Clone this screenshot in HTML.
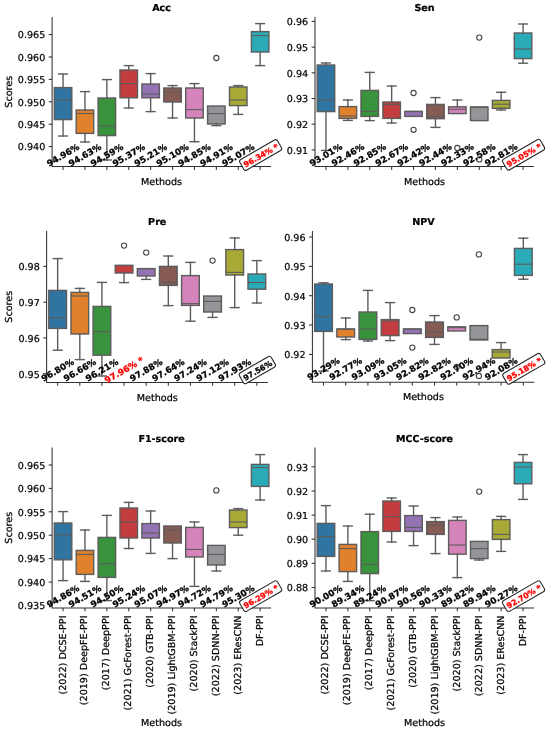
<!DOCTYPE html>
<html lang="en">
<head>
<meta charset="utf-8">
<title>Boxplots of method scores</title>
<style>
html,body{margin:0;padding:0;background:#ffffff;}
body{width:550px;height:731px;overflow:hidden;}
svg{display:block;font-family:"DejaVu Sans","Liberation Sans",sans-serif;fill:#000000;text-rendering:geometricPrecision;}
svg text{stroke:#000000;stroke-width:0.22px;stroke-linejoin:round;}
svg g.lab text{stroke-width:0.3px;}
svg text.r{stroke:#ff0000;}
</style>
</head>
<body>
<svg width="550" height="731" viewBox="0 0 550 731">
<rect width="550" height="731" fill="#ffffff"/>
<g class="panel">
<g stroke="#5c5c5c" stroke-width="1.4" stroke-linecap="square" fill="none">
<rect x="54.29" y="87.6" width="17.52" height="32" fill="#3074a1"/>
<line x1="54.29" y1="99.6" x2="71.81" y2="99.6" stroke-linecap="butt" stroke-width="1.1"/>
<line x1="63.05" y1="87.6" x2="63.05" y2="74"/>
<line x1="58.67" y1="74" x2="67.43" y2="74"/>
<line x1="63.05" y1="119.6" x2="63.05" y2="136"/>
<line x1="58.67" y1="136" x2="67.43" y2="136"/>
<rect x="76.19" y="110" width="17.52" height="23.4" fill="#e1812c"/>
<line x1="76.19" y1="113.5" x2="93.71" y2="113.5" stroke-linecap="butt" stroke-width="1.1"/>
<line x1="84.95" y1="110" x2="84.95" y2="91.6"/>
<line x1="80.57" y1="91.6" x2="89.33" y2="91.6"/>
<line x1="84.95" y1="133.4" x2="84.95" y2="142"/>
<line x1="80.57" y1="142" x2="89.33" y2="142"/>
<rect x="98.09" y="98" width="17.52" height="37.6" fill="#38933c"/>
<line x1="98.09" y1="126" x2="115.61" y2="126" stroke-linecap="butt" stroke-width="1.1"/>
<line x1="106.85" y1="98" x2="106.85" y2="79.6"/>
<line x1="102.47" y1="79.6" x2="111.23" y2="79.6"/>
<line x1="106.85" y1="135.6" x2="106.85" y2="160"/>
<line x1="102.47" y1="160" x2="111.23" y2="160"/>
<rect x="119.99" y="70" width="17.52" height="27.8" fill="#c33c3e"/>
<line x1="119.99" y1="83.6" x2="137.51" y2="83.6" stroke-linecap="butt" stroke-width="1.1"/>
<line x1="128.75" y1="70" x2="128.75" y2="65.6"/>
<line x1="124.37" y1="65.6" x2="133.13" y2="65.6"/>
<line x1="128.75" y1="97.8" x2="128.75" y2="108"/>
<line x1="124.37" y1="108" x2="133.13" y2="108"/>
<rect x="141.89" y="84" width="17.52" height="13.8" fill="#9473b5"/>
<line x1="141.89" y1="94" x2="159.41" y2="94" stroke-linecap="butt" stroke-width="1.1"/>
<line x1="150.65" y1="84" x2="150.65" y2="73.6"/>
<line x1="146.27" y1="73.6" x2="155.03" y2="73.6"/>
<line x1="150.65" y1="97.8" x2="150.65" y2="111.6"/>
<line x1="146.27" y1="111.6" x2="155.03" y2="111.6"/>
<rect x="163.79" y="88" width="17.52" height="14" fill="#855b53"/>
<line x1="163.79" y1="92" x2="181.31" y2="92" stroke-linecap="butt" stroke-width="1.1"/>
<line x1="172.55" y1="88" x2="172.55" y2="85.6"/>
<line x1="168.17" y1="85.6" x2="176.93" y2="85.6"/>
<line x1="172.55" y1="102" x2="172.55" y2="118"/>
<line x1="168.17" y1="118" x2="176.93" y2="118"/>
<rect x="185.69" y="88" width="17.52" height="30" fill="#d484ba"/>
<line x1="185.69" y1="109.6" x2="203.21" y2="109.6" stroke-linecap="butt" stroke-width="1.1"/>
<line x1="194.45" y1="88" x2="194.45" y2="83.6"/>
<line x1="190.07" y1="83.6" x2="198.83" y2="83.6"/>
<line x1="194.45" y1="118" x2="194.45" y2="141.7"/>
<line x1="190.07" y1="141.7" x2="198.83" y2="141.7"/>
<rect x="207.59" y="106" width="17.52" height="18" fill="#939598"/>
<line x1="207.59" y1="113.6" x2="225.11" y2="113.6" stroke-linecap="butt" stroke-width="1.1"/>
<line x1="216.35" y1="124" x2="216.35" y2="125.6"/>
<line x1="211.97" y1="125.6" x2="220.73" y2="125.6"/>
<circle cx="216.35" cy="58" r="2.6" stroke="#444444" stroke-width="1.1" fill="#ffffff" fill-opacity="0"/>
<rect x="229.49" y="87" width="17.52" height="18.6" fill="#a9aa35"/>
<line x1="229.49" y1="100" x2="247.01" y2="100" stroke-linecap="butt" stroke-width="1.1"/>
<line x1="238.25" y1="87" x2="238.25" y2="85.6"/>
<line x1="233.87" y1="85.6" x2="242.63" y2="85.6"/>
<line x1="238.25" y1="105.6" x2="238.25" y2="114.4"/>
<line x1="233.87" y1="114.4" x2="242.63" y2="114.4"/>
<rect x="251.39" y="31.6" width="17.52" height="20.4" fill="#2babb7"/>
<line x1="251.39" y1="35.6" x2="268.91" y2="35.6" stroke-linecap="butt" stroke-width="1.1"/>
<line x1="260.15" y1="31.6" x2="260.15" y2="23.6"/>
<line x1="255.77" y1="23.6" x2="264.53" y2="23.6"/>
<line x1="260.15" y1="52" x2="260.15" y2="65.6"/>
<line x1="255.77" y1="65.6" x2="264.53" y2="65.6"/>
</g>
<g stroke="#303030" stroke-width="1.05" fill="none">
<path d="M52.1 17V166.5H271.1"/>
<line x1="48.7" y1="34.6" x2="52.1" y2="34.6"/>
<line x1="48.7" y1="57" x2="52.1" y2="57"/>
<line x1="48.7" y1="79.4" x2="52.1" y2="79.4"/>
<line x1="48.7" y1="101.8" x2="52.1" y2="101.8"/>
<line x1="48.7" y1="124.2" x2="52.1" y2="124.2"/>
<line x1="48.7" y1="146.6" x2="52.1" y2="146.6"/>
<line x1="63.05" y1="166.5" x2="63.05" y2="169.9"/>
<line x1="84.95" y1="166.5" x2="84.95" y2="169.9"/>
<line x1="106.85" y1="166.5" x2="106.85" y2="169.9"/>
<line x1="128.75" y1="166.5" x2="128.75" y2="169.9"/>
<line x1="150.65" y1="166.5" x2="150.65" y2="169.9"/>
<line x1="172.55" y1="166.5" x2="172.55" y2="169.9"/>
<line x1="194.45" y1="166.5" x2="194.45" y2="169.9"/>
<line x1="216.35" y1="166.5" x2="216.35" y2="169.9"/>
<line x1="238.25" y1="166.5" x2="238.25" y2="169.9"/>
<line x1="260.15" y1="166.5" x2="260.15" y2="169.9"/>
</g>
<g font-size="9.6" text-anchor="end">
<text x="45.3" y="38.4">0.965</text>
<text x="45.3" y="60.8">0.960</text>
<text x="45.3" y="83.2">0.955</text>
<text x="45.3" y="105.6">0.950</text>
<text x="45.3" y="128">0.945</text>
<text x="45.3" y="150.4">0.940</text>
</g>
<text x="161.6" y="11.2" font-size="9.6" font-weight="bold" text-anchor="middle">Acc</text>
<text transform="translate(12.1 91.75) rotate(-90)" font-size="9.6" text-anchor="middle">Scores</text>
<text x="161.6" y="184.7" font-size="9.6" text-anchor="middle">Methods</text>
<g class="lab" font-weight="bold" text-anchor="middle">
<text transform="translate(62.95 155) rotate(-30)" y="3.11" font-size="8.64" fill="#000000">94.96%</text>
<text transform="translate(84.85 155) rotate(-30)" y="3.11" font-size="8.64" fill="#000000">94.63%</text>
<text transform="translate(106.75 155) rotate(-30)" y="3.11" font-size="8.64" fill="#000000">94.59%</text>
<text transform="translate(128.65 155) rotate(-30)" y="3.11" font-size="8.64" fill="#000000">95.37%</text>
<text transform="translate(150.55 155) rotate(-30)" y="3.11" font-size="8.64" fill="#000000">95.21%</text>
<text transform="translate(172.45 155) rotate(-30)" y="3.11" font-size="8.64" fill="#000000">95.10%</text>
<text transform="translate(194.35 155) rotate(-30)" y="3.11" font-size="8.64" fill="#000000">94.85%</text>
<text transform="translate(216.25 155) rotate(-30)" y="3.11" font-size="8.64" fill="#000000">94.91%</text>
<text transform="translate(238.15 155) rotate(-30)" y="3.11" font-size="8.64" fill="#000000">95.07%</text>
<g transform="translate(260.65 155) rotate(-30)">
<rect x="-21.71" y="-6.1" width="43.42" height="12.2" rx="2.3" fill="#ffffff" stroke="#222222" stroke-width="1.05"/>
<text y="3.36" font-size="7.68" fill="#ff0000" class="r">96.34% *</text>
</g>
</g>
</g>
<g class="panel">
<g stroke="#5c5c5c" stroke-width="1.4" stroke-linecap="square" fill="none">
<rect x="317.19" y="65" width="17.52" height="46.6" fill="#3074a1"/>
<line x1="317.19" y1="100" x2="334.71" y2="100" stroke-linecap="butt" stroke-width="1.1"/>
<line x1="325.95" y1="65" x2="325.95" y2="63"/>
<line x1="321.57" y1="63" x2="330.33" y2="63"/>
<line x1="325.95" y1="111.6" x2="325.95" y2="150.4"/>
<line x1="321.57" y1="150.4" x2="330.33" y2="150.4"/>
<rect x="339.09" y="106.6" width="17.52" height="11.8" fill="#e1812c"/>
<line x1="339.09" y1="116" x2="356.61" y2="116" stroke-linecap="butt" stroke-width="1.1"/>
<line x1="347.85" y1="106.6" x2="347.85" y2="100"/>
<line x1="343.47" y1="100" x2="352.23" y2="100"/>
<line x1="347.85" y1="118.4" x2="347.85" y2="120.4"/>
<line x1="343.47" y1="120.4" x2="352.23" y2="120.4"/>
<rect x="360.99" y="90.4" width="17.52" height="26" fill="#38933c"/>
<line x1="360.99" y1="111.4" x2="378.51" y2="111.4" stroke-linecap="butt" stroke-width="1.1"/>
<line x1="369.75" y1="90.4" x2="369.75" y2="72.4"/>
<line x1="365.37" y1="72.4" x2="374.13" y2="72.4"/>
<line x1="369.75" y1="116.4" x2="369.75" y2="120.6"/>
<line x1="365.37" y1="120.6" x2="374.13" y2="120.6"/>
<rect x="382.89" y="102" width="17.52" height="16.4" fill="#c33c3e"/>
<line x1="382.89" y1="104.4" x2="400.41" y2="104.4" stroke-linecap="butt" stroke-width="1.1"/>
<line x1="391.65" y1="102" x2="391.65" y2="86"/>
<line x1="387.27" y1="86" x2="396.03" y2="86"/>
<line x1="391.65" y1="118.4" x2="391.65" y2="123"/>
<line x1="387.27" y1="123" x2="396.03" y2="123"/>
<rect x="404.79" y="111.4" width="17.52" height="5" fill="#9473b5"/>
<line x1="404.79" y1="111.4" x2="422.31" y2="111.4" stroke-linecap="butt" stroke-width="1.1"/>
<circle cx="413.55" cy="93" r="2.6" stroke="#444444" stroke-width="1.1" fill="#ffffff" fill-opacity="0"/>
<circle cx="413.55" cy="129.8" r="2.6" stroke="#444444" stroke-width="1.1" fill="#ffffff" fill-opacity="0"/>
<rect x="426.69" y="104.4" width="17.52" height="14.3" fill="#855b53"/>
<line x1="426.69" y1="116.6" x2="444.21" y2="116.6" stroke-linecap="butt" stroke-width="1.1"/>
<line x1="435.45" y1="104.4" x2="435.45" y2="97.6"/>
<line x1="431.07" y1="97.6" x2="439.83" y2="97.6"/>
<line x1="435.45" y1="118.7" x2="435.45" y2="127.4"/>
<line x1="431.07" y1="127.4" x2="439.83" y2="127.4"/>
<rect x="448.59" y="106.8" width="17.52" height="6.8" fill="#d484ba"/>
<line x1="448.59" y1="109.3" x2="466.11" y2="109.3" stroke-linecap="butt" stroke-width="1.1"/>
<line x1="457.35" y1="106.8" x2="457.35" y2="100"/>
<line x1="452.97" y1="100" x2="461.73" y2="100"/>
<circle cx="457.35" cy="148" r="2.6" stroke="#444444" stroke-width="1.1" fill="#ffffff" fill-opacity="0"/>
<rect x="470.49" y="107" width="17.52" height="13.6" fill="#939598"/>
<line x1="470.49" y1="107" x2="488.01" y2="107" stroke-linecap="butt" stroke-width="1.1"/>
<circle cx="479.25" cy="37.6" r="2.6" stroke="#444444" stroke-width="1.1" fill="#ffffff" fill-opacity="0"/>
<circle cx="479.25" cy="159.4" r="2.6" stroke="#444444" stroke-width="1.1" fill="#ffffff" fill-opacity="0"/>
<rect x="492.39" y="100.4" width="17.52" height="7.9" fill="#a9aa35"/>
<line x1="492.39" y1="104.2" x2="509.91" y2="104.2" stroke-linecap="butt" stroke-width="1.1"/>
<line x1="501.15" y1="100.4" x2="501.15" y2="92.3"/>
<line x1="496.77" y1="92.3" x2="505.53" y2="92.3"/>
<line x1="501.15" y1="108.3" x2="501.15" y2="110"/>
<line x1="496.77" y1="110" x2="505.53" y2="110"/>
<rect x="514.29" y="33" width="17.52" height="25.6" fill="#2babb7"/>
<line x1="514.29" y1="49" x2="531.81" y2="49" stroke-linecap="butt" stroke-width="1.1"/>
<line x1="523.05" y1="33" x2="523.05" y2="24"/>
<line x1="518.67" y1="24" x2="527.43" y2="24"/>
<line x1="523.05" y1="58.6" x2="523.05" y2="63.2"/>
<line x1="518.67" y1="63.2" x2="527.43" y2="63.2"/>
</g>
<g stroke="#303030" stroke-width="1.05" fill="none">
<path d="M315 17V166.5H534"/>
<line x1="311.6" y1="21.4" x2="315" y2="21.4"/>
<line x1="311.6" y1="47.1" x2="315" y2="47.1"/>
<line x1="311.6" y1="72.8" x2="315" y2="72.8"/>
<line x1="311.6" y1="98.5" x2="315" y2="98.5"/>
<line x1="311.6" y1="124.2" x2="315" y2="124.2"/>
<line x1="311.6" y1="149.9" x2="315" y2="149.9"/>
<line x1="325.95" y1="166.5" x2="325.95" y2="169.9"/>
<line x1="347.85" y1="166.5" x2="347.85" y2="169.9"/>
<line x1="369.75" y1="166.5" x2="369.75" y2="169.9"/>
<line x1="391.65" y1="166.5" x2="391.65" y2="169.9"/>
<line x1="413.55" y1="166.5" x2="413.55" y2="169.9"/>
<line x1="435.45" y1="166.5" x2="435.45" y2="169.9"/>
<line x1="457.35" y1="166.5" x2="457.35" y2="169.9"/>
<line x1="479.25" y1="166.5" x2="479.25" y2="169.9"/>
<line x1="501.15" y1="166.5" x2="501.15" y2="169.9"/>
<line x1="523.05" y1="166.5" x2="523.05" y2="169.9"/>
</g>
<g font-size="9.6" text-anchor="end">
<text x="308.2" y="25.2">0.96</text>
<text x="308.2" y="50.9">0.95</text>
<text x="308.2" y="76.6">0.94</text>
<text x="308.2" y="102.3">0.93</text>
<text x="308.2" y="128">0.92</text>
<text x="308.2" y="153.7">0.91</text>
</g>
<text x="424.5" y="11.2" font-size="9.6" font-weight="bold" text-anchor="middle">Sen</text>
<text x="424.5" y="184.7" font-size="9.6" text-anchor="middle">Methods</text>
<g class="lab" font-weight="bold" text-anchor="middle">
<text transform="translate(325.85 154.7) rotate(-30)" y="3.11" font-size="8.64" fill="#000000">93.01%</text>
<text transform="translate(347.75 154.7) rotate(-30)" y="3.11" font-size="8.64" fill="#000000">92.46%</text>
<text transform="translate(369.65 154.7) rotate(-30)" y="3.11" font-size="8.64" fill="#000000">92.85%</text>
<text transform="translate(391.55 154.7) rotate(-30)" y="3.11" font-size="8.64" fill="#000000">92.67%</text>
<text transform="translate(413.45 154.7) rotate(-30)" y="3.11" font-size="8.64" fill="#000000">92.42%</text>
<text transform="translate(435.35 154.7) rotate(-30)" y="3.11" font-size="8.64" fill="#000000">92.44%</text>
<text transform="translate(457.25 154.7) rotate(-30)" y="3.11" font-size="8.64" fill="#000000">92.33%</text>
<text transform="translate(479.15 154.7) rotate(-30)" y="3.11" font-size="8.64" fill="#000000">92.58%</text>
<text transform="translate(501.05 154.7) rotate(-30)" y="3.11" font-size="8.64" fill="#000000">92.81%</text>
<g transform="translate(523.55 154.7) rotate(-30)">
<rect x="-21.71" y="-6.1" width="43.42" height="12.2" rx="2.3" fill="#ffffff" stroke="#222222" stroke-width="1.05"/>
<text y="3.36" font-size="7.68" fill="#ff0000" class="r">95.05% *</text>
</g>
</g>
</g>
<g class="panel">
<g stroke="#5c5c5c" stroke-width="1.4" stroke-linecap="square" fill="none">
<rect x="48.81" y="290.4" width="17.7" height="38" fill="#3074a1"/>
<line x1="48.81" y1="318" x2="66.52" y2="318" stroke-linecap="butt" stroke-width="1.1"/>
<line x1="57.66" y1="290.4" x2="57.66" y2="258.6"/>
<line x1="53.24" y1="258.6" x2="62.09" y2="258.6"/>
<line x1="57.66" y1="328.4" x2="57.66" y2="350.2"/>
<line x1="53.24" y1="350.2" x2="62.09" y2="350.2"/>
<rect x="70.94" y="292.4" width="17.7" height="41.6" fill="#e1812c"/>
<line x1="70.94" y1="296" x2="88.65" y2="296" stroke-linecap="butt" stroke-width="1.1"/>
<line x1="79.8" y1="292.4" x2="79.8" y2="288.4"/>
<line x1="75.37" y1="288.4" x2="84.22" y2="288.4"/>
<line x1="79.8" y1="334" x2="79.8" y2="359.6"/>
<line x1="75.37" y1="359.6" x2="84.22" y2="359.6"/>
<rect x="93.07" y="306.4" width="17.7" height="48.8" fill="#38933c"/>
<line x1="93.07" y1="331.6" x2="110.78" y2="331.6" stroke-linecap="butt" stroke-width="1.1"/>
<line x1="101.92" y1="306.4" x2="101.92" y2="282.4"/>
<line x1="97.5" y1="282.4" x2="106.35" y2="282.4"/>
<line x1="101.92" y1="355.2" x2="101.92" y2="376"/>
<line x1="97.5" y1="376" x2="106.35" y2="376"/>
<rect x="115.2" y="265.4" width="17.7" height="7.6" fill="#c33c3e"/>
<line x1="115.2" y1="265.4" x2="132.91" y2="265.4" stroke-linecap="butt" stroke-width="1.1"/>
<line x1="124.06" y1="273" x2="124.06" y2="282.6"/>
<line x1="119.63" y1="282.6" x2="128.48" y2="282.6"/>
<circle cx="124.06" cy="245.6" r="2.6" stroke="#444444" stroke-width="1.1" fill="#ffffff" fill-opacity="0"/>
<rect x="137.33" y="268.6" width="17.7" height="7.4" fill="#9473b5"/>
<line x1="137.33" y1="268.6" x2="155.04" y2="268.6" stroke-linecap="butt" stroke-width="1.1"/>
<line x1="146.19" y1="276" x2="146.19" y2="279.4"/>
<line x1="141.76" y1="279.4" x2="150.61" y2="279.4"/>
<circle cx="146.19" cy="252.6" r="2.6" stroke="#444444" stroke-width="1.1" fill="#ffffff" fill-opacity="0"/>
<rect x="159.46" y="266.4" width="17.7" height="19" fill="#855b53"/>
<line x1="159.46" y1="282.4" x2="177.17" y2="282.4" stroke-linecap="butt" stroke-width="1.1"/>
<line x1="168.31" y1="266.4" x2="168.31" y2="256"/>
<line x1="163.89" y1="256" x2="172.74" y2="256"/>
<line x1="168.31" y1="285.4" x2="168.31" y2="305.6"/>
<line x1="163.89" y1="305.6" x2="172.74" y2="305.6"/>
<rect x="181.59" y="275.6" width="17.7" height="29.8" fill="#d484ba"/>
<line x1="181.59" y1="303.6" x2="199.3" y2="303.6" stroke-linecap="butt" stroke-width="1.1"/>
<line x1="190.44" y1="275.6" x2="190.44" y2="262.4"/>
<line x1="186.02" y1="262.4" x2="194.87" y2="262.4"/>
<line x1="190.44" y1="305.4" x2="190.44" y2="321.2"/>
<line x1="186.02" y1="321.2" x2="194.87" y2="321.2"/>
<rect x="203.72" y="296" width="17.7" height="16" fill="#939598"/>
<line x1="203.72" y1="301.4" x2="221.43" y2="301.4" stroke-linecap="butt" stroke-width="1.1"/>
<line x1="212.57" y1="312" x2="212.57" y2="317.4"/>
<line x1="208.15" y1="317.4" x2="217" y2="317.4"/>
<circle cx="212.57" cy="260.6" r="2.6" stroke="#444444" stroke-width="1.1" fill="#ffffff" fill-opacity="0"/>
<rect x="225.85" y="249.6" width="17.7" height="25.4" fill="#a9aa35"/>
<line x1="225.85" y1="272.4" x2="243.56" y2="272.4" stroke-linecap="butt" stroke-width="1.1"/>
<line x1="234.7" y1="249.6" x2="234.7" y2="238"/>
<line x1="230.28" y1="238" x2="239.13" y2="238"/>
<line x1="234.7" y1="275" x2="234.7" y2="307.6"/>
<line x1="230.28" y1="307.6" x2="239.13" y2="307.6"/>
<rect x="247.98" y="274" width="17.7" height="15.2" fill="#2babb7"/>
<line x1="247.98" y1="282.5" x2="265.69" y2="282.5" stroke-linecap="butt" stroke-width="1.1"/>
<line x1="256.83" y1="274" x2="256.83" y2="260.6"/>
<line x1="252.41" y1="260.6" x2="261.26" y2="260.6"/>
<line x1="256.83" y1="289.2" x2="256.83" y2="303"/>
<line x1="252.41" y1="303" x2="261.26" y2="303"/>
</g>
<g stroke="#303030" stroke-width="1.05" fill="none">
<path d="M46.6 231V382.4H267.9"/>
<line x1="43.2" y1="266.4" x2="46.6" y2="266.4"/>
<line x1="43.2" y1="302.2" x2="46.6" y2="302.2"/>
<line x1="43.2" y1="337.9" x2="46.6" y2="337.9"/>
<line x1="43.2" y1="373.7" x2="46.6" y2="373.7"/>
<line x1="57.66" y1="382.4" x2="57.66" y2="385.8"/>
<line x1="79.8" y1="382.4" x2="79.8" y2="385.8"/>
<line x1="101.92" y1="382.4" x2="101.92" y2="385.8"/>
<line x1="124.06" y1="382.4" x2="124.06" y2="385.8"/>
<line x1="146.19" y1="382.4" x2="146.19" y2="385.8"/>
<line x1="168.31" y1="382.4" x2="168.31" y2="385.8"/>
<line x1="190.44" y1="382.4" x2="190.44" y2="385.8"/>
<line x1="212.57" y1="382.4" x2="212.57" y2="385.8"/>
<line x1="234.7" y1="382.4" x2="234.7" y2="385.8"/>
<line x1="256.83" y1="382.4" x2="256.83" y2="385.8"/>
</g>
<g font-size="9.6" text-anchor="end">
<text x="39.8" y="270.2">0.98</text>
<text x="39.8" y="306">0.97</text>
<text x="39.8" y="341.7">0.96</text>
<text x="39.8" y="377.5">0.95</text>
</g>
<text x="157.25" y="225.2" font-size="9.6" font-weight="bold" text-anchor="middle">Pre</text>
<text transform="translate(12.1 306.7) rotate(-90)" font-size="9.6" text-anchor="middle">Scores</text>
<text x="157.25" y="400.6" font-size="9.6" text-anchor="middle">Methods</text>
<g class="lab" font-weight="bold" text-anchor="middle">
<text transform="translate(57.56 370) rotate(-30)" y="3.11" font-size="8.64" fill="#000000">96.80%</text>
<text transform="translate(79.7 370) rotate(-30)" y="3.11" font-size="8.64" fill="#000000">96.66%</text>
<text transform="translate(101.83 370) rotate(-30)" y="3.11" font-size="8.64" fill="#000000">96.21%</text>
<text transform="translate(123.96 370) rotate(-30)" y="3.11" font-size="8.64" fill="#ff0000" class="r">97.96% *</text>
<text transform="translate(146.09 370) rotate(-30)" y="3.11" font-size="8.64" fill="#000000">97.88%</text>
<text transform="translate(168.22 370) rotate(-30)" y="3.11" font-size="8.64" fill="#000000">97.64%</text>
<text transform="translate(190.34 370) rotate(-30)" y="3.11" font-size="8.64" fill="#000000">97.24%</text>
<text transform="translate(212.47 370) rotate(-30)" y="3.11" font-size="8.64" fill="#000000">97.12%</text>
<text transform="translate(234.6 370) rotate(-30)" y="3.11" font-size="8.64" fill="#000000">97.93%</text>
<g transform="translate(257.33 370) rotate(-30)">
<rect x="-18.35" y="-6.1" width="36.7" height="12.2" rx="2.3" fill="#ffffff" stroke="#222222" stroke-width="1.05"/>
<text y="3.36" font-size="7.68" fill="#000000">97.56%</text>
</g>
</g>
</g>
<g class="panel">
<g stroke="#5c5c5c" stroke-width="1.4" stroke-linecap="square" fill="none">
<rect x="314.62" y="284" width="17.76" height="47.4" fill="#3074a1"/>
<line x1="314.62" y1="316.6" x2="332.38" y2="316.6" stroke-linecap="butt" stroke-width="1.1"/>
<line x1="323.5" y1="284" x2="323.5" y2="282.8"/>
<line x1="319.06" y1="282.8" x2="327.94" y2="282.8"/>
<line x1="323.5" y1="331.4" x2="323.5" y2="371"/>
<line x1="319.06" y1="371" x2="327.94" y2="371"/>
<rect x="336.82" y="329" width="17.76" height="8" fill="#e1812c"/>
<line x1="336.82" y1="329" x2="354.58" y2="329" stroke-linecap="butt" stroke-width="1.1"/>
<line x1="345.7" y1="329" x2="345.7" y2="318"/>
<line x1="341.26" y1="318" x2="350.14" y2="318"/>
<line x1="345.7" y1="337" x2="345.7" y2="339.6"/>
<line x1="341.26" y1="339.6" x2="350.14" y2="339.6"/>
<rect x="359.02" y="312" width="17.76" height="27.4" fill="#38933c"/>
<line x1="359.02" y1="329" x2="376.78" y2="329" stroke-linecap="butt" stroke-width="1.1"/>
<line x1="367.9" y1="312" x2="367.9" y2="290.4"/>
<line x1="363.46" y1="290.4" x2="372.34" y2="290.4"/>
<line x1="367.9" y1="339.4" x2="367.9" y2="341"/>
<line x1="363.46" y1="341" x2="372.34" y2="341"/>
<rect x="381.22" y="319.6" width="17.76" height="16" fill="#c33c3e"/>
<line x1="381.22" y1="321" x2="398.98" y2="321" stroke-linecap="butt" stroke-width="1.1"/>
<line x1="390.1" y1="319.6" x2="390.1" y2="302.6"/>
<line x1="385.66" y1="302.6" x2="394.54" y2="302.6"/>
<line x1="390.1" y1="335.6" x2="390.1" y2="340.6"/>
<line x1="385.66" y1="340.6" x2="394.54" y2="340.6"/>
<rect x="403.42" y="329" width="17.76" height="4.6" fill="#9473b5"/>
<line x1="403.42" y1="329" x2="421.18" y2="329" stroke-linecap="butt" stroke-width="1.1"/>
<circle cx="412.3" cy="310" r="2.6" stroke="#444444" stroke-width="1.1" fill="#ffffff" fill-opacity="0"/>
<circle cx="412.3" cy="347.6" r="2.6" stroke="#444444" stroke-width="1.1" fill="#ffffff" fill-opacity="0"/>
<rect x="425.62" y="322" width="17.76" height="15.4" fill="#855b53"/>
<line x1="425.62" y1="332.4" x2="443.38" y2="332.4" stroke-linecap="butt" stroke-width="1.1"/>
<line x1="434.5" y1="322" x2="434.5" y2="315.6"/>
<line x1="430.06" y1="315.6" x2="438.94" y2="315.6"/>
<line x1="434.5" y1="337.4" x2="434.5" y2="344.4"/>
<line x1="430.06" y1="344.4" x2="438.94" y2="344.4"/>
<rect x="447.82" y="326.8" width="17.76" height="4.2" fill="#d484ba"/>
<line x1="447.82" y1="327.7" x2="465.58" y2="327.7" stroke-linecap="butt" stroke-width="1.1"/>
<circle cx="456.7" cy="317.4" r="2.6" stroke="#444444" stroke-width="1.1" fill="#ffffff" fill-opacity="0"/>
<circle cx="456.7" cy="367" r="2.6" stroke="#444444" stroke-width="1.1" fill="#ffffff" fill-opacity="0"/>
<rect x="470.02" y="325.6" width="17.76" height="14.4" fill="#939598"/>
<line x1="470.02" y1="339.2" x2="487.78" y2="339.2" stroke-linecap="butt" stroke-width="1.1"/>
<circle cx="478.9" cy="254.4" r="2.6" stroke="#444444" stroke-width="1.1" fill="#ffffff" fill-opacity="0"/>
<circle cx="478.9" cy="376" r="2.6" stroke="#444444" stroke-width="1.1" fill="#ffffff" fill-opacity="0"/>
<rect x="492.22" y="349.6" width="17.76" height="8.4" fill="#a9aa35"/>
<line x1="492.22" y1="352" x2="509.98" y2="352" stroke-linecap="butt" stroke-width="1.1"/>
<line x1="501.1" y1="349.6" x2="501.1" y2="342.6"/>
<line x1="496.66" y1="342.6" x2="505.54" y2="342.6"/>
<rect x="514.42" y="248.4" width="17.76" height="27" fill="#2babb7"/>
<line x1="514.42" y1="264.2" x2="532.18" y2="264.2" stroke-linecap="butt" stroke-width="1.1"/>
<line x1="523.3" y1="248.4" x2="523.3" y2="238.2"/>
<line x1="518.86" y1="238.2" x2="527.74" y2="238.2"/>
<line x1="523.3" y1="275.4" x2="523.3" y2="279.2"/>
<line x1="518.86" y1="279.2" x2="527.74" y2="279.2"/>
</g>
<g stroke="#303030" stroke-width="1.05" fill="none">
<path d="M312.4 231V382.2H534.4"/>
<line x1="309" y1="237" x2="312.4" y2="237"/>
<line x1="309" y1="266.4" x2="312.4" y2="266.4"/>
<line x1="309" y1="295.7" x2="312.4" y2="295.7"/>
<line x1="309" y1="325" x2="312.4" y2="325"/>
<line x1="309" y1="354.4" x2="312.4" y2="354.4"/>
<line x1="323.5" y1="382.2" x2="323.5" y2="385.6"/>
<line x1="345.7" y1="382.2" x2="345.7" y2="385.6"/>
<line x1="367.9" y1="382.2" x2="367.9" y2="385.6"/>
<line x1="390.1" y1="382.2" x2="390.1" y2="385.6"/>
<line x1="412.3" y1="382.2" x2="412.3" y2="385.6"/>
<line x1="434.5" y1="382.2" x2="434.5" y2="385.6"/>
<line x1="456.7" y1="382.2" x2="456.7" y2="385.6"/>
<line x1="478.9" y1="382.2" x2="478.9" y2="385.6"/>
<line x1="501.1" y1="382.2" x2="501.1" y2="385.6"/>
<line x1="523.3" y1="382.2" x2="523.3" y2="385.6"/>
</g>
<g font-size="9.6" text-anchor="end">
<text x="305.6" y="240.8">0.96</text>
<text x="305.6" y="270.2">0.95</text>
<text x="305.6" y="299.5">0.94</text>
<text x="305.6" y="328.8">0.93</text>
<text x="305.6" y="358.2">0.92</text>
</g>
<text x="423.4" y="225.2" font-size="9.6" font-weight="bold" text-anchor="middle">NPV</text>
<text x="423.4" y="400.4" font-size="9.6" text-anchor="middle">Methods</text>
<g class="lab" font-weight="bold" text-anchor="middle">
<text transform="translate(323.4 368.8) rotate(-30)" y="3.11" font-size="8.64" fill="#000000">93.29%</text>
<text transform="translate(345.6 368.8) rotate(-30)" y="3.11" font-size="8.64" fill="#000000">92.77%</text>
<text transform="translate(367.8 368.8) rotate(-30)" y="3.11" font-size="8.64" fill="#000000">93.09%</text>
<text transform="translate(390 368.8) rotate(-30)" y="3.11" font-size="8.64" fill="#000000">93.05%</text>
<text transform="translate(412.2 368.8) rotate(-30)" y="3.11" font-size="8.64" fill="#000000">92.82%</text>
<text transform="translate(434.4 368.8) rotate(-30)" y="3.11" font-size="8.64" fill="#000000">92.82%</text>
<text transform="translate(456.6 368.8) rotate(-30)" y="3.11" font-size="8.64" fill="#000000">92.70%</text>
<text transform="translate(478.8 368.8) rotate(-30)" y="3.11" font-size="8.64" fill="#000000">92.94%</text>
<text transform="translate(501 368.8) rotate(-30)" y="3.11" font-size="8.64" fill="#000000">92.08%</text>
<g transform="translate(523.8 368.8) rotate(-30)">
<rect x="-21.71" y="-6.1" width="43.42" height="12.2" rx="2.3" fill="#ffffff" stroke="#222222" stroke-width="1.05"/>
<text y="3.36" font-size="7.68" fill="#ff0000" class="r">95.18% *</text>
</g>
</g>
</g>
<g class="panel">
<g stroke="#5c5c5c" stroke-width="1.4" stroke-linecap="square" fill="none">
<rect x="54.29" y="523" width="17.52" height="36.8" fill="#3074a1"/>
<line x1="54.29" y1="535" x2="71.81" y2="535" stroke-linecap="butt" stroke-width="1.1"/>
<line x1="63.05" y1="523" x2="63.05" y2="511.6"/>
<line x1="58.67" y1="511.6" x2="67.43" y2="511.6"/>
<line x1="63.05" y1="559.8" x2="63.05" y2="580.6"/>
<line x1="58.67" y1="580.6" x2="67.43" y2="580.6"/>
<rect x="76.19" y="550.4" width="17.52" height="24" fill="#e1812c"/>
<line x1="76.19" y1="554.4" x2="93.71" y2="554.4" stroke-linecap="butt" stroke-width="1.1"/>
<line x1="84.95" y1="550.4" x2="84.95" y2="530"/>
<line x1="80.57" y1="530" x2="89.33" y2="530"/>
<line x1="84.95" y1="574.4" x2="84.95" y2="581.4"/>
<line x1="80.57" y1="581.4" x2="89.33" y2="581.4"/>
<rect x="98.09" y="537.4" width="17.52" height="40" fill="#38933c"/>
<line x1="98.09" y1="563.6" x2="115.61" y2="563.6" stroke-linecap="butt" stroke-width="1.1"/>
<line x1="106.85" y1="537.4" x2="106.85" y2="515.4"/>
<line x1="102.47" y1="515.4" x2="111.23" y2="515.4"/>
<line x1="106.85" y1="577.4" x2="106.85" y2="600.6"/>
<line x1="102.47" y1="600.6" x2="111.23" y2="600.6"/>
<rect x="119.99" y="508" width="17.52" height="30" fill="#c33c3e"/>
<line x1="119.99" y1="522" x2="137.51" y2="522" stroke-linecap="butt" stroke-width="1.1"/>
<line x1="128.75" y1="508" x2="128.75" y2="502.4"/>
<line x1="124.37" y1="502.4" x2="133.13" y2="502.4"/>
<line x1="128.75" y1="538" x2="128.75" y2="548.5"/>
<line x1="124.37" y1="548.5" x2="133.13" y2="548.5"/>
<rect x="141.89" y="523.6" width="17.52" height="14.4" fill="#9473b5"/>
<line x1="141.89" y1="533" x2="159.41" y2="533" stroke-linecap="butt" stroke-width="1.1"/>
<line x1="150.65" y1="523.6" x2="150.65" y2="511"/>
<line x1="146.27" y1="511" x2="155.03" y2="511"/>
<line x1="150.65" y1="538" x2="150.65" y2="553.4"/>
<line x1="146.27" y1="553.4" x2="155.03" y2="553.4"/>
<rect x="163.79" y="526" width="17.52" height="17" fill="#855b53"/>
<line x1="163.79" y1="530" x2="181.31" y2="530" stroke-linecap="butt" stroke-width="1.1"/>
<line x1="172.55" y1="543" x2="172.55" y2="558.6"/>
<line x1="168.17" y1="558.6" x2="176.93" y2="558.6"/>
<rect x="185.69" y="527.4" width="17.52" height="29.6" fill="#d484ba"/>
<line x1="185.69" y1="549.4" x2="203.21" y2="549.4" stroke-linecap="butt" stroke-width="1.1"/>
<line x1="194.45" y1="527.4" x2="194.45" y2="522"/>
<line x1="190.07" y1="522" x2="198.83" y2="522"/>
<line x1="194.45" y1="557" x2="194.45" y2="586.4"/>
<line x1="190.07" y1="586.4" x2="198.83" y2="586.4"/>
<rect x="207.59" y="545.4" width="17.52" height="19.6" fill="#939598"/>
<line x1="207.59" y1="554.4" x2="225.11" y2="554.4" stroke-linecap="butt" stroke-width="1.1"/>
<line x1="216.35" y1="565" x2="216.35" y2="571"/>
<line x1="211.97" y1="571" x2="220.73" y2="571"/>
<circle cx="216.35" cy="490.4" r="2.6" stroke="#444444" stroke-width="1.1" fill="#ffffff" fill-opacity="0"/>
<rect x="229.49" y="510" width="17.52" height="17.6" fill="#a9aa35"/>
<line x1="229.49" y1="522" x2="247.01" y2="522" stroke-linecap="butt" stroke-width="1.1"/>
<line x1="238.25" y1="510" x2="238.25" y2="508.6"/>
<line x1="233.87" y1="508.6" x2="242.63" y2="508.6"/>
<line x1="238.25" y1="527.6" x2="238.25" y2="535.2"/>
<line x1="233.87" y1="535.2" x2="242.63" y2="535.2"/>
<rect x="251.39" y="464.4" width="17.52" height="22" fill="#2babb7"/>
<line x1="251.39" y1="467.6" x2="268.91" y2="467.6" stroke-linecap="butt" stroke-width="1.1"/>
<line x1="260.15" y1="464.4" x2="260.15" y2="454.6"/>
<line x1="255.77" y1="454.6" x2="264.53" y2="454.6"/>
<line x1="260.15" y1="486.4" x2="260.15" y2="500"/>
<line x1="255.77" y1="500" x2="264.53" y2="500"/>
</g>
<g stroke="#303030" stroke-width="1.05" fill="none">
<path d="M52.1 447.6V607.9H271.1"/>
<line x1="48.7" y1="465" x2="52.1" y2="465"/>
<line x1="48.7" y1="488.4" x2="52.1" y2="488.4"/>
<line x1="48.7" y1="511.8" x2="52.1" y2="511.8"/>
<line x1="48.7" y1="535.2" x2="52.1" y2="535.2"/>
<line x1="48.7" y1="558.6" x2="52.1" y2="558.6"/>
<line x1="48.7" y1="582.1" x2="52.1" y2="582.1"/>
<line x1="48.7" y1="605.5" x2="52.1" y2="605.5"/>
<line x1="63.05" y1="607.9" x2="63.05" y2="611.3"/>
<line x1="84.95" y1="607.9" x2="84.95" y2="611.3"/>
<line x1="106.85" y1="607.9" x2="106.85" y2="611.3"/>
<line x1="128.75" y1="607.9" x2="128.75" y2="611.3"/>
<line x1="150.65" y1="607.9" x2="150.65" y2="611.3"/>
<line x1="172.55" y1="607.9" x2="172.55" y2="611.3"/>
<line x1="194.45" y1="607.9" x2="194.45" y2="611.3"/>
<line x1="216.35" y1="607.9" x2="216.35" y2="611.3"/>
<line x1="238.25" y1="607.9" x2="238.25" y2="611.3"/>
<line x1="260.15" y1="607.9" x2="260.15" y2="611.3"/>
</g>
<g font-size="9.6" text-anchor="end">
<text x="45.3" y="468.8">0.965</text>
<text x="45.3" y="492.2">0.960</text>
<text x="45.3" y="515.6">0.955</text>
<text x="45.3" y="539">0.950</text>
<text x="45.3" y="562.4">0.945</text>
<text x="45.3" y="585.9">0.940</text>
<text x="45.3" y="609.3">0.935</text>
</g>
<text x="161.6" y="441.8" font-size="9.6" font-weight="bold" text-anchor="middle">F1-score</text>
<text transform="translate(12.1 527.75) rotate(-90)" font-size="9.6" text-anchor="middle">Scores</text>
<g font-size="9.6" text-anchor="end">
<text transform="translate(65.55 615.5) rotate(-90)">(2022) DCSE-PPI</text>
<text transform="translate(87.45 615.5) rotate(-90)">(2019) DeepFE-PPI</text>
<text transform="translate(109.35 615.5) rotate(-90)">(2017) DeepPPI</text>
<text transform="translate(131.25 615.5) rotate(-90)">(2021) GcForest-PPI</text>
<text transform="translate(153.15 615.5) rotate(-90)">(2020) GTB-PPI</text>
<text transform="translate(175.05 615.5) rotate(-90)">(2019) LightGBM-PPI</text>
<text transform="translate(196.95 615.5) rotate(-90)">(2020) StackPPI</text>
<text transform="translate(218.85 615.5) rotate(-90)">(2022) SDNN-PPI</text>
<text transform="translate(240.75 615.5) rotate(-90)">(2023) EResCNN</text>
<text transform="translate(262.65 615.5) rotate(-90)">DF-PPI</text>
</g>
<text x="161.6" y="725.7" font-size="9.6" text-anchor="middle">Methods</text>
<g class="lab" font-weight="bold" text-anchor="middle">
<text transform="translate(62.95 596.1) rotate(-30)" y="3.11" font-size="8.64" fill="#000000">94.86%</text>
<text transform="translate(84.85 596.1) rotate(-30)" y="3.11" font-size="8.64" fill="#000000">94.51%</text>
<text transform="translate(106.75 596.1) rotate(-30)" y="3.11" font-size="8.64" fill="#000000">94.50%</text>
<text transform="translate(128.65 596.1) rotate(-30)" y="3.11" font-size="8.64" fill="#000000">95.24%</text>
<text transform="translate(150.55 596.1) rotate(-30)" y="3.11" font-size="8.64" fill="#000000">95.07%</text>
<text transform="translate(172.45 596.1) rotate(-30)" y="3.11" font-size="8.64" fill="#000000">94.97%</text>
<text transform="translate(194.35 596.1) rotate(-30)" y="3.11" font-size="8.64" fill="#000000">94.72%</text>
<text transform="translate(216.25 596.1) rotate(-30)" y="3.11" font-size="8.64" fill="#000000">94.79%</text>
<text transform="translate(238.15 596.1) rotate(-30)" y="3.11" font-size="8.64" fill="#000000">95.30%</text>
<g transform="translate(260.65 596.1) rotate(-30)">
<rect x="-21.71" y="-6.1" width="43.42" height="12.2" rx="2.3" fill="#ffffff" stroke="#222222" stroke-width="1.05"/>
<text y="3.36" font-size="7.68" fill="#ff0000" class="r">96.29% *</text>
</g>
</g>
</g>
<g class="panel">
<g stroke="#5c5c5c" stroke-width="1.4" stroke-linecap="square" fill="none">
<rect x="317.19" y="523.4" width="17.52" height="33" fill="#3074a1"/>
<line x1="317.19" y1="536.6" x2="334.71" y2="536.6" stroke-linecap="butt" stroke-width="1.1"/>
<line x1="325.95" y1="523.4" x2="325.95" y2="505.6"/>
<line x1="321.57" y1="505.6" x2="330.33" y2="505.6"/>
<line x1="325.95" y1="556.4" x2="325.95" y2="571"/>
<line x1="321.57" y1="571" x2="330.33" y2="571"/>
<rect x="339.09" y="544.4" width="17.52" height="27.2" fill="#e1812c"/>
<line x1="339.09" y1="548.6" x2="356.61" y2="548.6" stroke-linecap="butt" stroke-width="1.1"/>
<line x1="347.85" y1="544.4" x2="347.85" y2="526"/>
<line x1="343.47" y1="526" x2="352.23" y2="526"/>
<line x1="347.85" y1="571.6" x2="347.85" y2="581.4"/>
<line x1="343.47" y1="581.4" x2="352.23" y2="581.4"/>
<rect x="360.99" y="531.6" width="17.52" height="42" fill="#38933c"/>
<line x1="360.99" y1="564.4" x2="378.51" y2="564.4" stroke-linecap="butt" stroke-width="1.1"/>
<line x1="369.75" y1="531.6" x2="369.75" y2="514.2"/>
<line x1="365.37" y1="514.2" x2="374.13" y2="514.2"/>
<line x1="369.75" y1="573.6" x2="369.75" y2="600.6"/>
<line x1="365.37" y1="600.6" x2="374.13" y2="600.6"/>
<rect x="382.89" y="501" width="17.52" height="30.4" fill="#c33c3e"/>
<line x1="382.89" y1="516.6" x2="400.41" y2="516.6" stroke-linecap="butt" stroke-width="1.1"/>
<line x1="391.65" y1="501" x2="391.65" y2="498"/>
<line x1="387.27" y1="498" x2="396.03" y2="498"/>
<line x1="391.65" y1="531.4" x2="391.65" y2="542"/>
<line x1="387.27" y1="542" x2="396.03" y2="542"/>
<rect x="404.79" y="515.6" width="17.52" height="15.8" fill="#9473b5"/>
<line x1="404.79" y1="527.4" x2="422.31" y2="527.4" stroke-linecap="butt" stroke-width="1.1"/>
<line x1="413.55" y1="515.6" x2="413.55" y2="506"/>
<line x1="409.17" y1="506" x2="417.93" y2="506"/>
<line x1="413.55" y1="531.4" x2="413.55" y2="545.6"/>
<line x1="409.17" y1="545.6" x2="417.93" y2="545.6"/>
<rect x="426.69" y="521.6" width="17.52" height="12.8" fill="#855b53"/>
<line x1="426.69" y1="525" x2="444.21" y2="525" stroke-linecap="butt" stroke-width="1.1"/>
<line x1="435.45" y1="521.6" x2="435.45" y2="517.6"/>
<line x1="431.07" y1="517.6" x2="439.83" y2="517.6"/>
<line x1="435.45" y1="534.4" x2="435.45" y2="553.6"/>
<line x1="431.07" y1="553.6" x2="439.83" y2="553.6"/>
<rect x="448.59" y="520.4" width="17.52" height="33.8" fill="#d484ba"/>
<line x1="448.59" y1="545" x2="466.11" y2="545" stroke-linecap="butt" stroke-width="1.1"/>
<line x1="457.35" y1="520.4" x2="457.35" y2="517"/>
<line x1="452.97" y1="517" x2="461.73" y2="517"/>
<line x1="457.35" y1="554.2" x2="457.35" y2="577.6"/>
<line x1="452.97" y1="577.6" x2="461.73" y2="577.6"/>
<rect x="470.49" y="541.4" width="17.52" height="17.2" fill="#939598"/>
<line x1="470.49" y1="548.6" x2="488.01" y2="548.6" stroke-linecap="butt" stroke-width="1.1"/>
<line x1="479.25" y1="558.6" x2="479.25" y2="560"/>
<line x1="474.87" y1="560" x2="483.63" y2="560"/>
<circle cx="479.25" cy="491.6" r="2.6" stroke="#444444" stroke-width="1.1" fill="#ffffff" fill-opacity="0"/>
<rect x="492.39" y="519.6" width="17.52" height="19.8" fill="#a9aa35"/>
<line x1="492.39" y1="534.4" x2="509.91" y2="534.4" stroke-linecap="butt" stroke-width="1.1"/>
<line x1="501.15" y1="519.6" x2="501.15" y2="516.4"/>
<line x1="496.77" y1="516.4" x2="505.53" y2="516.4"/>
<line x1="501.15" y1="539.4" x2="501.15" y2="551.4"/>
<line x1="496.77" y1="551.4" x2="505.53" y2="551.4"/>
<rect x="514.29" y="462.4" width="17.52" height="21.4" fill="#2babb7"/>
<line x1="514.29" y1="467" x2="531.81" y2="467" stroke-linecap="butt" stroke-width="1.1"/>
<line x1="523.05" y1="462.4" x2="523.05" y2="454.6"/>
<line x1="518.67" y1="454.6" x2="527.43" y2="454.6"/>
<line x1="523.05" y1="483.8" x2="523.05" y2="499.4"/>
<line x1="518.67" y1="499.4" x2="527.43" y2="499.4"/>
</g>
<g stroke="#303030" stroke-width="1.05" fill="none">
<path d="M315 447.6V607.9H534"/>
<line x1="311.6" y1="466.8" x2="315" y2="466.8"/>
<line x1="311.6" y1="491" x2="315" y2="491"/>
<line x1="311.6" y1="515.1" x2="315" y2="515.1"/>
<line x1="311.6" y1="539.2" x2="315" y2="539.2"/>
<line x1="311.6" y1="563.3" x2="315" y2="563.3"/>
<line x1="311.6" y1="587.5" x2="315" y2="587.5"/>
<line x1="325.95" y1="607.9" x2="325.95" y2="611.3"/>
<line x1="347.85" y1="607.9" x2="347.85" y2="611.3"/>
<line x1="369.75" y1="607.9" x2="369.75" y2="611.3"/>
<line x1="391.65" y1="607.9" x2="391.65" y2="611.3"/>
<line x1="413.55" y1="607.9" x2="413.55" y2="611.3"/>
<line x1="435.45" y1="607.9" x2="435.45" y2="611.3"/>
<line x1="457.35" y1="607.9" x2="457.35" y2="611.3"/>
<line x1="479.25" y1="607.9" x2="479.25" y2="611.3"/>
<line x1="501.15" y1="607.9" x2="501.15" y2="611.3"/>
<line x1="523.05" y1="607.9" x2="523.05" y2="611.3"/>
</g>
<g font-size="9.6" text-anchor="end">
<text x="308.2" y="470.6">0.93</text>
<text x="308.2" y="494.8">0.92</text>
<text x="308.2" y="518.9">0.91</text>
<text x="308.2" y="543">0.90</text>
<text x="308.2" y="567.1">0.89</text>
<text x="308.2" y="591.3">0.88</text>
</g>
<text x="424.5" y="441.8" font-size="9.6" font-weight="bold" text-anchor="middle">MCC-score</text>
<g font-size="9.6" text-anchor="end">
<text transform="translate(328.45 615.5) rotate(-90)">(2022) DCSE-PPI</text>
<text transform="translate(350.35 615.5) rotate(-90)">(2019) DeepFE-PPI</text>
<text transform="translate(372.25 615.5) rotate(-90)">(2017) DeepPPI</text>
<text transform="translate(394.15 615.5) rotate(-90)">(2021) GcForest-PPI</text>
<text transform="translate(416.05 615.5) rotate(-90)">(2020) GTB-PPI</text>
<text transform="translate(437.95 615.5) rotate(-90)">(2019) LightGBM-PPI</text>
<text transform="translate(459.85 615.5) rotate(-90)">(2020) StackPPI</text>
<text transform="translate(481.75 615.5) rotate(-90)">(2022) SDNN-PPI</text>
<text transform="translate(503.65 615.5) rotate(-90)">(2023) EResCNN</text>
<text transform="translate(525.55 615.5) rotate(-90)">DF-PPI</text>
</g>
<text x="424.5" y="725.7" font-size="9.6" text-anchor="middle">Methods</text>
<g class="lab" font-weight="bold" text-anchor="middle">
<text transform="translate(325.85 596.1) rotate(-30)" y="3.11" font-size="8.64" fill="#000000">90.00%</text>
<text transform="translate(347.75 596.1) rotate(-30)" y="3.11" font-size="8.64" fill="#000000">89.34%</text>
<text transform="translate(369.65 596.1) rotate(-30)" y="3.11" font-size="8.64" fill="#000000">89.24%</text>
<text transform="translate(391.55 596.1) rotate(-30)" y="3.11" font-size="8.64" fill="#000000">90.87%</text>
<text transform="translate(413.45 596.1) rotate(-30)" y="3.11" font-size="8.64" fill="#000000">90.56%</text>
<text transform="translate(435.35 596.1) rotate(-30)" y="3.11" font-size="8.64" fill="#000000">90.33%</text>
<text transform="translate(457.25 596.1) rotate(-30)" y="3.11" font-size="8.64" fill="#000000">89.82%</text>
<text transform="translate(479.15 596.1) rotate(-30)" y="3.11" font-size="8.64" fill="#000000">89.94%</text>
<text transform="translate(501.05 596.1) rotate(-30)" y="3.11" font-size="8.64" fill="#000000">90.27%</text>
<g transform="translate(523.55 596.1) rotate(-30)">
<rect x="-21.71" y="-6.1" width="43.42" height="12.2" rx="2.3" fill="#ffffff" stroke="#222222" stroke-width="1.05"/>
<text y="3.36" font-size="7.68" fill="#ff0000" class="r">92.70% *</text>
</g>
</g>
</g>
</svg>
</body>
</html>
